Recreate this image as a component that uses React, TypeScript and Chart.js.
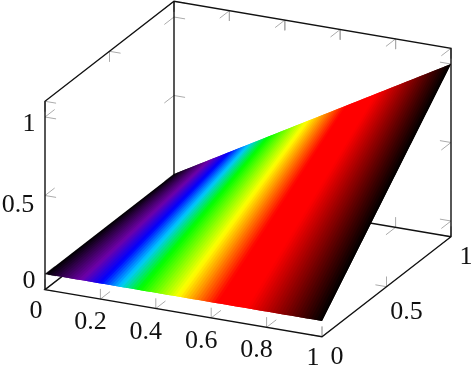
import React, { useEffect, useRef } from "react";
import { Chart, registerables } from "chart.js";

Chart.register(...registerables);

// Surface samples: for each column x, the height at the front (y=0) and back (y=1) edge.
const meshX = [0,0.01,0.02,0.03,0.04,0.05,0.06,0.07,0.08,0.09,0.1,0.11,0.12,0.13,0.14,0.15,0.16,0.17,0.18,0.19,0.2,0.21,0.22,0.23,0.24,0.25,0.26,0.27,0.28,0.29,0.3,0.31,0.32,0.33,0.34,0.35,0.36,0.37,0.38,0.39,0.4,0.41,0.42,0.43,0.44,0.45,0.46,0.47,0.48,0.49,0.5,0.51,0.52,0.53,0.54,0.55,0.56,0.57,0.58,0.59,0.6,0.61,0.62,0.63,0.64,0.65,0.66,0.67,0.68,0.69,0.7,0.71,0.72,0.73,0.74,0.75,0.76,0.77,0.78,0.79,0.8,0.81,0.82,0.83,0.84,0.85,0.86,0.87,0.88,0.89,0.9,0.91,0.92,0.93,0.94,0.95,0.96,0.97,0.98,0.99,1];
const backEdgeZ = [0,0.01,0.02,0.03,0.04,0.05,0.06,0.07,0.08,0.09,0.1,0.11,0.12,0.13,0.14,0.15,0.16,0.17,0.18,0.19,0.2,0.21,0.22,0.23,0.24,0.25,0.26,0.27,0.28,0.29,0.3,0.31,0.32,0.33,0.34,0.35,0.36,0.37,0.38,0.39,0.4,0.41,0.42,0.43,0.44,0.45,0.46,0.47,0.48,0.49,0.5,0.51,0.52,0.53,0.54,0.55,0.56,0.57,0.58,0.59,0.6,0.61,0.62,0.63,0.64,0.65,0.66,0.67,0.68,0.69,0.7,0.71,0.72,0.73,0.74,0.75,0.76,0.77,0.78,0.79,0.8,0.81,0.82,0.83,0.84,0.85,0.86,0.87,0.88,0.89,0.9,0.91,0.92,0.93,0.94,0.95,0.96,0.97,0.98,0.99,1];
const frontEdgeZ = 0;

const colorStops = [0, 0.13, 0.2, 0.27, 0.34, 0.48, 0.62, 0.73, 1];
const colorValues = [
  [0, 0, 0],
  [110, 0, 170],
  [0, 0, 255],
  [0, 200, 255],
  [0, 255, 0],
  [255, 255, 0],
  [255, 0, 0],
  [255, 0, 0],
  [0, 0, 0],
];

const xTicks = [0, 0.2, 0.4, 0.6, 0.8, 1];
const yTicks = [0, 0.5, 1];
const zTicks = [0, 0.5, 1];
const xTickLabels = ["0", "0.2", "0.4", "0.6", "0.8", "1"];
const yTickLabels = ["0", "0.5", "1"];
const zTickLabels = ["0", "0.5", "1"];
const zBottom = -0.1;
const zTop = 1.1;

// View of the 3D box on the page.
const project = (x: number, y: number, z: number) => ({
  x: 45 + 277 * x + 129 * y,
  y: 274 + 47 * x - 100 * y - 157 * z,
});

const colorAt = (t: number) => {
  let i = 0;
  while (i < colorStops.length - 2 && t > colorStops[i + 1]) i++;
  const f = (t - colorStops[i]) / (colorStops[i + 1] - colorStops[i]);
  const c = colorValues[i].map((v, k) => Math.round(v + (colorValues[i + 1][k] - v) * f));
  return `rgb(${c[0]},${c[1]},${c[2]})`;
};

const pathDataset = (pts: number[][], color: string, width: number) => ({
  data: pts.map((p) => project(p[0], p[1], p[2])),
  showLine: true,
  fill: false,
  borderColor: color,
  borderWidth: width,
  pointRadius: 0,
  tension: 0,
});

const buildDatasets = () => {
  // Each strip runs one column past its own end and is overpainted by the next,
  // so that no seams show between neighbouring strips.
  const surface: any[] = [];
  for (let i = meshX.length - 2; i >= 0; i--) {
    const far = Math.min(i + 2, meshX.length - 1);
    const color = colorAt((meshX[i] + meshX[i + 1]) / 2);
    surface.push({
      data: [
        project(meshX[i], 0, frontEdgeZ),
        project(meshX[far], 0, frontEdgeZ),
        project(meshX[far], 1, backEdgeZ[far]),
        project(meshX[i], 1, backEdgeZ[i]),
      ],
      showLine: true,
      fill: "shape",
      backgroundColor: color,
      borderWidth: 0,
      pointRadius: 0,
      tension: 0,
    });
  }

  const frame = [
    [[0, 0, zBottom], [0, 0, zTop], [0, 1, zTop], [1, 1, zTop], [1, 1, zBottom], [1, 0, zBottom], [0, 0, zBottom], [0, 1, zBottom], [1, 1, zBottom]],
    [[0, 1, zBottom], [0, 1, zTop]],
  ].map((p) => pathDataset(p, "#111111", 1.4));

  const dx = 0.04;
  const dy = 0.075;
  const dz = 0.065;
  const ticks: any[] = [];
  const tick = (x: number, y: number, z: number, tx: number, ty: number, tz: number) =>
    ticks.push(pathDataset([[x, y, z], [x + tx, y + ty, z + tz]], "#ababab", 1));
  xTicks.forEach((x) => {
    tick(x, 0, zBottom, 0, 0, dz);
    tick(x, 0, zBottom, 0, dy, 0);
    tick(x, 1, zBottom, 0, 0, dz);
    tick(x, 1, zBottom, 0, -dy, 0);
    tick(x, 1, zTop, 0, 0, -dz);
    tick(x, 1, zTop, 0, -dy, 0);
  });
  yTicks.forEach((y) => {
    tick(0, y, zTop, dx, 0, 0);
    tick(0, y, zTop, 0, 0, -dz);
    tick(0, y, zBottom, dx, 0, 0);
    tick(0, y, zBottom, 0, 0, dz);
    tick(1, y, zBottom, -dx, 0, 0);
    tick(1, y, zBottom, 0, 0, dz);
  });
  zTicks.forEach((z) => {
    tick(0, 0, z, dx, 0, 0);
    tick(0, 0, z, 0, dy, 0);
    tick(0, 1, z, dx, 0, 0);
    tick(0, 1, z, 0, -dy, 0);
    tick(1, 1, z, -dx, 0, 0);
    tick(1, 1, z, 0, -dy, 0);
  });

  // The first dataset is painted last, so the surface goes first.
  return [...surface, ...frame, ...ticks];
};

const tickLabelsPlugin = {
  id: "tickLabels3d",
  afterDraw(chart: any) {
    const { ctx, scales } = chart;
    ctx.save();
    ctx.fillStyle = "#111";
    ctx.font = '26px "Liberation Serif"';
    ctx.textAlign = "center";
    ctx.textBaseline = "alphabetic";
    const put = (text: string, p: { x: number; y: number }, ox: number, oy: number) => {
      ctx.fillText(text, scales.x.getPixelForValue(p.x) + ox, scales.y.getPixelForValue(p.y) + oy);
    };
    xTicks.forEach((x, i) => {
      const edge = i === 0 || i === xTicks.length - 1;
      put(xTickLabels[i], project(x, 0, zBottom), edge ? -9 : -10, edge ? 28 : 30);
    });
    yTicks.forEach((y, i) => {
      put(yTickLabels[i], project(1, y, zBottom), i === 1 ? 20 : 15, i === 1 ? 32 : 27);
    });
    zTicks.forEach((z, i) => {
      put(zTickLabels[i], project(0, 0, z), i === 1 ? -27 : -16, i === 1 ? 16 : 14);
    });
    ctx.restore();
  },
};

export default function App() {
  const ref = useRef<HTMLCanvasElement>(null);
  useEffect(() => {
    document.body.style.margin = "0";
    const chart = new Chart(ref.current as HTMLCanvasElement, {
      type: "scatter",
      data: { datasets: buildDatasets() },
      plugins: [tickLabelsPlugin],
      options: {
        animation: false,
        responsive: false,
        layout: { padding: 0 },
        plugins: { legend: { display: false }, tooltip: { enabled: false } },
        scales: {
          x: { type: "linear", display: false, min: 0, max: 474 },
          y: { type: "linear", display: false, min: 0, max: 367, reverse: true },
        },
      },
    } as any);
    return () => chart.destroy();
  }, []);
  return <canvas ref={ref} width={474} height={367} style={{ display: "block" }} />;
}
